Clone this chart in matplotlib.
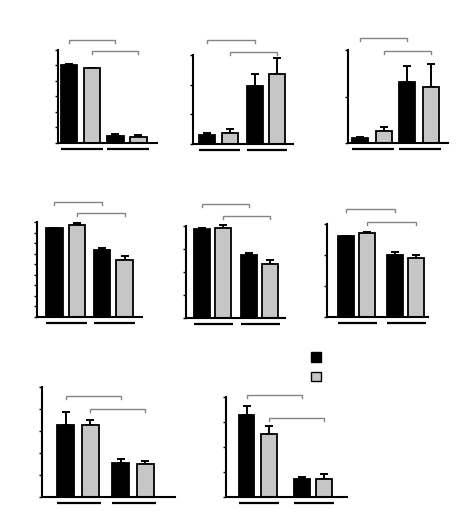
import numpy as np
import matplotlib
matplotlib.use('Agg')
import matplotlib.pyplot as plt
import matplotlib.transforms as mtransforms
from matplotlib.patches import Rectangle

# values, in units of one y tick
black_mean = [[5.01, 0.41], [0.29, 1.97], [0.12, 1.31], [8.43, 6.33],
              [3.87, 2.75], [2.62, 2.01], [3.24, 1.53], [3.27, 0.72]]
black_err = [[0.11, 0.13], [0.07, 0.39], [0.02, 0.35], [0.06, 0.25],
             [0.03, 0.07], [0.0, 0.07], [0.59, 0.17], [0.37, 0.07]]
gray_mean = [[4.82, 0.39], [0.37, 2.36], [0.27, 1.20], [8.71, 5.38],
             [3.91, 2.34], [2.72, 1.90], [3.26, 1.50], [2.49, 0.72]]
gray_err = [[0.04, 0.13], [0.12, 0.54], [0.08, 0.49], [0.23, 0.41],
            [0.15, 0.16], [0.03, 0.11], [0.24, 0.11], [0.35, 0.20]]
y_top = [6, 3, 2, 9, 4, 3, 5, 4]

GRAY = '#c6c6c6'
BRACKET = '#858585'
W, H = 474, 528

# panel layout in pixels: (left, top, right, bottom), xlim, group gap, bar width, bracket heights
layout = [
    ((57.7, 50.0, 157.0, 142.7), (-0.49, 3.80), 0.00, 0.71, (1.108, 0.989)),
    ((192.7, 55.0, 293.0, 144.0), (-0.65, 3.82), 0.11, 0.71, (1.169, 1.037)),
    ((348.3, 50.0, 448.0, 143.3), (-0.51, 3.72), 0.00, 0.68, (1.125, 0.986)),
    ((37.3, 222.3, 141.7, 316.7), (-0.76, 3.89), 0.13, 0.73, (1.212, 1.095)),
    ((186.0, 226.0, 285.0, 317.7), (-0.78, 3.95), 0.24, 0.76, (1.240, 1.109)),
    ((327.3, 224.0, 428.0, 316.7), (-0.86, 3.84), 0.29, 0.75, (1.162, 1.025)),
    ((42.3, 386.7, 175.0, 496.7), (-0.95, 4.42), 0.22, 0.69, (0.915, 0.800)),
    ((226.0, 396.7, 346.7, 496.7), (-0.92, 4.47), 0.46, 0.70, (1.017, 0.790)),
]

fig = plt.figure(figsize=(W / 100, H / 100), dpi=100)

for i, (box, xlim, gap, w, br) in enumerate(layout):
    x0, y0, x1, y1 = box
    ax = fig.add_axes([x0 / W, 1 - y1 / H, (x1 - x0) / W, (y1 - y0) / H])
    h_px = y1 - y0

    pos = np.array([0, 1, 2 + gap, 3 + gap])
    means = [black_mean[i][0], gray_mean[i][0], black_mean[i][1], gray_mean[i][1]]
    errs = [black_err[i][0], gray_err[i][0], black_err[i][1], gray_err[i][1]]
    colors = ['black', GRAY, 'black', GRAY]

    ax.errorbar(pos, means, yerr=[np.zeros(4), errs], fmt='none', ecolor='black',
                elinewidth=1.4, capsize=3, capthick=1.4, zorder=1, clip_on=False)
    ax.bar(pos, means, width=w, color=colors, edgecolor='black', linewidth=1.3, zorder=2)

    ax.set_xlim(*xlim)
    ax.set_ylim(0, y_top[i])
    ax.set_yticks(np.arange(y_top[i] + 1))
    ax.set_yticklabels([])
    ax.set_xticks([])
    ax.tick_params(axis='y', length=2.5, width=1.0, direction='out')
    for s in ['top', 'right']:
        ax.spines[s].set_visible(False)
    for s in ['left', 'bottom']:
        ax.spines[s].set_linewidth(1.5)
    ax.patch.set_alpha(0)

    trans = mtransforms.blended_transform_factory(ax.transData, ax.transAxes)
    # comparison brackets
    d = 3.0 / h_px
    for (a, b), yb in zip([(pos[0], pos[2]), (pos[1], pos[3])], br):
        ax.plot([a, a, b, b], [yb - d, yb, yb, yb - d], transform=trans,
                color=BRACKET, lw=1.0, clip_on=False)
    # group underlines
    yu = -6.0 / h_px
    for a, b in [(pos[0], pos[1]), (pos[2], pos[3])]:
        ax.plot([a - w / 2, b + w / 2 + 0.1], [yu, yu], transform=trans,
                color='black', lw=1.6, clip_on=False, solid_capstyle='butt')

# legend squares
fig.patches.append(Rectangle((311 / W, 1 - 362 / H), 10 / W, 9.7 / H, transform=fig.transFigure,
                             facecolor='black', edgecolor='black', lw=1.0))
fig.patches.append(Rectangle((311 / W, 1 - 381.3 / H), 10 / W, 9.0 / H, transform=fig.transFigure,
                             facecolor=GRAY, edgecolor='black', lw=1.0))

fig.savefig('out.png', dpi=100)
